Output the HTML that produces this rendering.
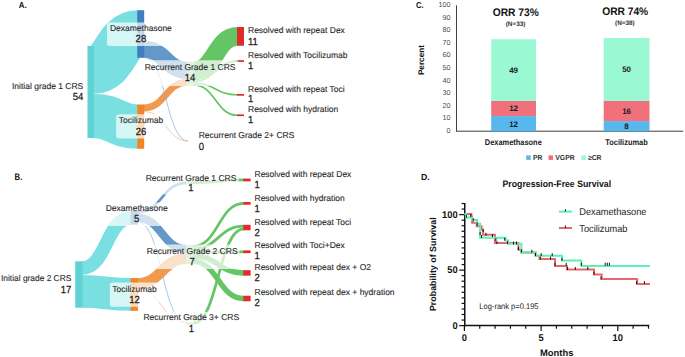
<!DOCTYPE html>
<html><head><meta charset="utf-8"><style>
html,body{margin:0;padding:0;background:#fff;}
svg{display:block;font-family:"Liberation Sans", sans-serif;text-rendering:geometricPrecision;}
</style></head><body>
<svg width="685" height="357" viewBox="0 0 685 357">
<rect width="685" height="357" fill="#fff"/>
<path d="M93.40,69.86 C115.60,69.86 115.60,34.00 137.80,34.00" fill="none" stroke="#79dfe0" stroke-width="47.71" stroke-opacity="1.0"/>
<path d="M93.40,115.86 C115.60,115.86 115.60,126.65 137.80,126.65" fill="none" stroke="#79dfe0" stroke-width="44.29" stroke-opacity="1.0"/>
<path d="M143.60,49.28 C165.60,49.28 165.60,70.32 187.60,70.32" fill="none" stroke="#6498c8" stroke-width="17.04" stroke-opacity="1.0"/>
<path d="M143.60,107.91 C165.60,107.91 165.60,82.25 187.60,82.25" fill="none" stroke="#ef9a4d" stroke-width="6.82" stroke-opacity="1.0"/>
<path d="M144.20,57.50 C166.10,57.50 166.10,141.00 188.00,141.00" fill="none" stroke="#7fb0dc" stroke-width="0.7" stroke-opacity="1.0"/>
<path d="M144.20,111.62 C166.10,111.62 166.10,141.00 188.00,141.00" fill="none" stroke="#f2b57c" stroke-width="0.7" stroke-opacity="1.0"/>
<path d="M193.40,71.17 C215.50,71.17 215.50,36.37 237.60,36.37" fill="none" stroke="#64c564" stroke-width="18.74" stroke-opacity="1.0"/>
<path d="M193.40,81.40 C215.50,81.40 215.50,61.05 237.60,61.05" fill="none" stroke="#64c564" stroke-width="1.70" stroke-opacity="1.0"/>
<path d="M193.40,83.10 C215.50,83.10 215.50,94.85 237.60,94.85" fill="none" stroke="#64c564" stroke-width="1.70" stroke-opacity="1.0"/>
<path d="M193.40,84.80 C215.50,84.80 215.50,115.25 237.60,115.25" fill="none" stroke="#64c564" stroke-width="1.70" stroke-opacity="1.0"/>
<rect x="87.50" y="46.00" width="6.50" height="92.00" fill="#5fd2d3"/>
<rect x="137.20" y="10.20" width="7.00" height="47.60" fill="#3f7fbf"/>
<rect x="137.20" y="104.50" width="7.00" height="44.30" fill="#f08427"/>
<rect x="187.00" y="61.80" width="7.00" height="23.86" fill="#9ad69a"/>
<rect x="237.00" y="27.00" width="7.00" height="18.74" fill="#dd2c2c"/>
<rect x="237.00" y="60.20" width="7.00" height="1.70" fill="#dd2c2c"/>
<rect x="237.00" y="94.00" width="7.00" height="1.70" fill="#dd2c2c"/>
<rect x="237.00" y="114.40" width="7.00" height="1.70" fill="#dd2c2c"/>
<text x="83.30" y="89.00" font-size="8.5" text-anchor="end" font-weight="normal" fill="#2a2a2a" stroke="#2a2a2a" stroke-width="0.12" >Initial grade 1 CRS</text>
<text transform="translate(83.30,99.70) scale(0.92,1)" font-size="10.3" text-anchor="end" font-weight="normal" fill="#1a1a1a" stroke="#1a1a1a" stroke-width="0.25" >54</text>
<rect x="107.00" y="22.50" width="67.80" height="23.50" rx="2.5" fill="#fff" fill-opacity="0.7"/>
<text x="140.90" y="31.40" font-size="8.5" text-anchor="middle" font-weight="normal" fill="#2a2a2a" stroke="#2a2a2a" stroke-width="0.12" >Dexamethasone</text>
<text transform="translate(140.90,42.30) scale(0.92,1)" font-size="10.3" text-anchor="middle" font-weight="normal" fill="#1a1a1a" stroke="#1a1a1a" stroke-width="0.25" >28</text>
<rect x="116.20" y="114.20" width="49.40" height="24.40" rx="2.5" fill="#fff" fill-opacity="0.7"/>
<text x="141.00" y="123.10" font-size="8.5" text-anchor="middle" font-weight="normal" fill="#2a2a2a" stroke="#2a2a2a" stroke-width="0.12" >Tocilizumab</text>
<text transform="translate(141.00,134.80) scale(0.92,1)" font-size="10.3" text-anchor="middle" font-weight="normal" fill="#1a1a1a" stroke="#1a1a1a" stroke-width="0.25" >26</text>
<rect x="141.50" y="60.30" width="97.00" height="25.70" rx="2.5" fill="#fff" fill-opacity="0.7"/>
<text x="190.10" y="70.30" font-size="8.5" text-anchor="middle" font-weight="normal" fill="#2a2a2a" stroke="#2a2a2a" stroke-width="0.12" >Recurrent Grade 1 CRS</text>
<text transform="translate(190.10,81.30) scale(0.92,1)" font-size="10.3" text-anchor="middle" font-weight="normal" fill="#1a1a1a" stroke="#1a1a1a" stroke-width="0.25" >14</text>
<text x="198.70" y="138.00" font-size="8.5" text-anchor="start" font-weight="normal" fill="#2a2a2a" stroke="#2a2a2a" stroke-width="0.12" >Recurrent Grade 2+ CRS</text>
<text transform="translate(198.70,149.60) scale(0.92,1)" font-size="10.3" text-anchor="start" font-weight="normal" fill="#1a1a1a" stroke="#1a1a1a" stroke-width="0.25" >0</text>
<text x="248.00" y="33.00" font-size="8.5" text-anchor="start" font-weight="normal" fill="#2a2a2a" stroke="#2a2a2a" stroke-width="0.12" >Resolved with repeat Dex</text>
<text transform="translate(248.00,44.50) scale(0.92,1)" font-size="10.3" text-anchor="start" font-weight="normal" fill="#1a1a1a" stroke="#1a1a1a" stroke-width="0.25" >11</text>
<text x="248.00" y="57.80" font-size="8.5" text-anchor="start" font-weight="normal" fill="#2a2a2a" stroke="#2a2a2a" stroke-width="0.12" >Resolved with Tocilizumab</text>
<text transform="translate(248.00,69.20) scale(0.92,1)" font-size="10.3" text-anchor="start" font-weight="normal" fill="#1a1a1a" stroke="#1a1a1a" stroke-width="0.25" >1</text>
<text x="248.00" y="91.60" font-size="8.5" text-anchor="start" font-weight="normal" fill="#2a2a2a" stroke="#2a2a2a" stroke-width="0.12" >Resolved with repeat Toci</text>
<text transform="translate(248.00,102.10) scale(0.92,1)" font-size="10.3" text-anchor="start" font-weight="normal" fill="#1a1a1a" stroke="#1a1a1a" stroke-width="0.25" >1</text>
<text x="248.00" y="112.10" font-size="8.5" text-anchor="start" font-weight="normal" fill="#2a2a2a" stroke="#2a2a2a" stroke-width="0.12" >Resolved with hydration</text>
<text transform="translate(248.00,122.80) scale(0.92,1)" font-size="10.3" text-anchor="start" font-weight="normal" fill="#1a1a1a" stroke="#1a1a1a" stroke-width="0.25" >1</text>
<path d="M81.90,268.12 C106.55,268.12 106.55,217.82 131.20,217.82" fill="none" stroke="#79dfe0" stroke-width="13.65" stroke-opacity="1.0"/>
<path d="M81.90,291.33 C106.55,291.33 106.55,294.48 131.20,294.48" fill="none" stroke="#79dfe0" stroke-width="32.76" stroke-opacity="1.0"/>
<path d="M137.30,212.37 C161.95,212.37 161.95,182.87 186.60,182.87" fill="none" stroke="#6498c8" stroke-width="2.73" stroke-opacity="1.0"/>
<path d="M137.30,217.82 C161.95,217.82 161.95,249.09 186.60,249.09" fill="none" stroke="#6498c8" stroke-width="8.19" stroke-opacity="1.0"/>
<path d="M137.90,222.22 C161.95,222.22 161.95,322.30 186.00,322.30" fill="none" stroke="#7fb0dc" stroke-width="0.7" stroke-opacity="1.0"/>
<path d="M137.30,283.56 C161.95,283.56 161.95,258.65 186.60,258.65" fill="none" stroke="#ef9a4d" stroke-width="10.92" stroke-opacity="1.0"/>
<path d="M137.90,289.32 C161.95,289.32 161.95,322.60 186.00,322.60" fill="none" stroke="#f2b57c" stroke-width="0.7" stroke-opacity="1.0"/>
<path d="M192.70,182.87 C218.30,182.87 218.30,179.96 243.90,179.96" fill="none" stroke="#64c564" stroke-width="2.73" stroke-opacity="1.0"/>
<path d="M192.70,246.37 C218.30,246.37 218.30,203.37 243.90,203.37" fill="none" stroke="#64c564" stroke-width="2.73" stroke-opacity="1.0"/>
<path d="M192.70,249.09 C218.30,249.09 218.30,226.17 243.90,226.17" fill="none" stroke="#64c564" stroke-width="2.73" stroke-opacity="1.0"/>
<path d="M192.70,251.82 C218.30,251.82 218.30,251.76 243.90,251.76" fill="none" stroke="#64c564" stroke-width="2.73" stroke-opacity="1.0"/>
<path d="M192.70,255.92 C218.30,255.92 218.30,272.93 243.90,272.93" fill="none" stroke="#64c564" stroke-width="5.46" stroke-opacity="1.0"/>
<path d="M192.70,261.38 C218.30,261.38 218.30,298.53 243.90,298.53" fill="none" stroke="#64c564" stroke-width="5.46" stroke-opacity="1.0"/>
<path d="M192.70,323.37 C218.30,323.37 218.30,228.90 243.90,228.90" fill="none" stroke="#64c564" stroke-width="2.73" stroke-opacity="1.0"/>
<rect x="75.20" y="261.30" width="7.30" height="46.41" fill="#5fd2d3"/>
<rect x="130.60" y="211.00" width="7.30" height="13.65" fill="#3f7fbf"/>
<rect x="130.60" y="278.10" width="7.30" height="32.76" fill="#f08427"/>
<rect x="186.00" y="181.50" width="7.30" height="2.73" fill="#9ad69a"/>
<rect x="186.00" y="245.00" width="7.30" height="19.11" fill="#9ad69a"/>
<rect x="186.00" y="322.00" width="7.30" height="2.73" fill="#9ad69a"/>
<rect x="243.30" y="178.60" width="7.30" height="2.73" fill="#dd2c2c"/>
<rect x="243.30" y="202.00" width="7.30" height="2.73" fill="#dd2c2c"/>
<rect x="243.30" y="224.80" width="7.30" height="5.46" fill="#dd2c2c"/>
<rect x="243.30" y="250.40" width="7.30" height="2.73" fill="#dd2c2c"/>
<rect x="243.30" y="270.20" width="7.30" height="5.46" fill="#dd2c2c"/>
<rect x="243.30" y="295.80" width="7.30" height="5.46" fill="#dd2c2c"/>
<text transform="translate(71.30,281.40) scale(0.985,1)" font-size="8.5" text-anchor="end" font-weight="normal" fill="#2a2a2a" stroke="#2a2a2a" stroke-width="0.12" >Initial grade 2 CRS</text>
<text transform="translate(71.30,293.00) scale(0.92,1)" font-size="10.3" text-anchor="end" font-weight="normal" fill="#1a1a1a" stroke="#1a1a1a" stroke-width="0.25" >17</text>
<rect x="103.50" y="202.50" width="66.50" height="23.50" rx="2.5" fill="#fff" fill-opacity="0.7"/>
<text x="136.70" y="211.00" font-size="8.5" text-anchor="middle" font-weight="normal" fill="#2a2a2a" stroke="#2a2a2a" stroke-width="0.12" >Dexamethasone</text>
<text transform="translate(136.70,222.10) scale(0.92,1)" font-size="10.3" text-anchor="middle" font-weight="normal" fill="#1a1a1a" stroke="#1a1a1a" stroke-width="0.25" >5</text>
<rect x="109.80" y="282.60" width="49.20" height="24.20" rx="2.5" fill="#fff" fill-opacity="0.7"/>
<text x="134.50" y="292.00" font-size="8.5" text-anchor="middle" font-weight="normal" fill="#2a2a2a" stroke="#2a2a2a" stroke-width="0.12" >Tocilizumab</text>
<text transform="translate(134.50,303.30) scale(0.92,1)" font-size="10.3" text-anchor="middle" font-weight="normal" fill="#1a1a1a" stroke="#1a1a1a" stroke-width="0.25" >12</text>
<rect x="143.50" y="171.50" width="95.10" height="23.00" rx="2.5" fill="#fff" fill-opacity="0.7"/>
<text x="191.00" y="180.90" font-size="8.5" text-anchor="middle" font-weight="normal" fill="#2a2a2a" stroke="#2a2a2a" stroke-width="0.12" >Recurrent Grade 1 CRS</text>
<text transform="translate(191.00,191.40) scale(0.92,1)" font-size="10.3" text-anchor="middle" font-weight="normal" fill="#1a1a1a" stroke="#1a1a1a" stroke-width="0.25" >1</text>
<rect x="145.00" y="244.50" width="94.50" height="24.50" rx="2.5" fill="#fff" fill-opacity="0.7"/>
<text x="192.20" y="253.50" font-size="8.5" text-anchor="middle" font-weight="normal" fill="#2a2a2a" stroke="#2a2a2a" stroke-width="0.12" >Recurrent Grade 2 CRS</text>
<text transform="translate(192.20,264.50) scale(0.92,1)" font-size="10.3" text-anchor="middle" font-weight="normal" fill="#1a1a1a" stroke="#1a1a1a" stroke-width="0.25" >7</text>
<rect x="141.50" y="311.80" width="99.50" height="23.20" rx="2.5" fill="#fff" fill-opacity="0.7"/>
<text x="191.30" y="320.40" font-size="8.5" text-anchor="middle" font-weight="normal" fill="#2a2a2a" stroke="#2a2a2a" stroke-width="0.12" >Recurrent Grade 3+ CRS</text>
<text transform="translate(191.30,332.00) scale(0.92,1)" font-size="10.3" text-anchor="middle" font-weight="normal" fill="#1a1a1a" stroke="#1a1a1a" stroke-width="0.25" >1</text>
<text x="254.50" y="177.20" font-size="8.5" text-anchor="start" font-weight="normal" fill="#2a2a2a" stroke="#2a2a2a" stroke-width="0.12" >Resolved with repeat Dex</text>
<text transform="translate(254.50,188.10) scale(0.92,1)" font-size="10.3" text-anchor="start" font-weight="normal" fill="#1a1a1a" stroke="#1a1a1a" stroke-width="0.25" >1</text>
<text x="254.50" y="200.70" font-size="8.5" text-anchor="start" font-weight="normal" fill="#2a2a2a" stroke="#2a2a2a" stroke-width="0.12" >Resolved with hydration</text>
<text transform="translate(254.50,211.60) scale(0.92,1)" font-size="10.3" text-anchor="start" font-weight="normal" fill="#1a1a1a" stroke="#1a1a1a" stroke-width="0.25" >1</text>
<text x="254.50" y="224.80" font-size="8.5" text-anchor="start" font-weight="normal" fill="#2a2a2a" stroke="#2a2a2a" stroke-width="0.12" >Resolved with repeat Toci</text>
<text transform="translate(254.50,235.50) scale(0.92,1)" font-size="10.3" text-anchor="start" font-weight="normal" fill="#1a1a1a" stroke="#1a1a1a" stroke-width="0.25" >2</text>
<text x="254.50" y="248.10" font-size="8.5" text-anchor="start" font-weight="normal" fill="#2a2a2a" stroke="#2a2a2a" stroke-width="0.12" >Resolved with Toci+Dex</text>
<text transform="translate(254.50,259.30) scale(0.92,1)" font-size="10.3" text-anchor="start" font-weight="normal" fill="#1a1a1a" stroke="#1a1a1a" stroke-width="0.25" >1</text>
<text x="254.50" y="269.60" font-size="8.5" text-anchor="start" font-weight="normal" fill="#2a2a2a" stroke="#2a2a2a" stroke-width="0.12" >Resolved with repeat dex + O2</text>
<text transform="translate(254.50,280.50) scale(0.92,1)" font-size="10.3" text-anchor="start" font-weight="normal" fill="#1a1a1a" stroke="#1a1a1a" stroke-width="0.25" >2</text>
<text x="254.50" y="295.20" font-size="8.5" text-anchor="start" font-weight="normal" fill="#2a2a2a" stroke="#2a2a2a" stroke-width="0.12" >Resolved with repeat dex + hydration</text>
<text transform="translate(254.50,306.00) scale(0.92,1)" font-size="10.3" text-anchor="start" font-weight="normal" fill="#1a1a1a" stroke="#1a1a1a" stroke-width="0.25" >2</text>
<text transform="translate(18.80,8.10) scale(0.9,1)" font-size="8.8" text-anchor="start" font-weight="bold" fill="#111" >A.</text>
<text transform="translate(14.60,180.10) scale(0.82,1)" font-size="9.4" text-anchor="start" font-weight="bold" fill="#111" >B.</text>
<text transform="translate(416.10,8.20) scale(0.88,1)" font-size="8.6" text-anchor="start" font-weight="bold" fill="#111" >C.</text>
<text x="421.00" y="179.90" font-size="8.8" text-anchor="start" font-weight="bold" fill="#111" >D.</text>
<line x1="456.5" y1="5.3" x2="456.5" y2="131.20" stroke="#404040" stroke-width="1"/>
<line x1="456.0" y1="131.20" x2="683.2" y2="131.20" stroke="#404040" stroke-width="1"/>
<text x="450.40" y="133.00" font-size="7.2" text-anchor="end" font-weight="normal" fill="#4d4d4d" >0</text>
<text x="450.40" y="120.40" font-size="7.2" text-anchor="end" font-weight="normal" fill="#4d4d4d" >10</text>
<text x="450.40" y="107.80" font-size="7.2" text-anchor="end" font-weight="normal" fill="#4d4d4d" >20</text>
<text x="450.40" y="95.20" font-size="7.2" text-anchor="end" font-weight="normal" fill="#4d4d4d" >30</text>
<text x="450.40" y="82.60" font-size="7.2" text-anchor="end" font-weight="normal" fill="#4d4d4d" >40</text>
<text x="450.40" y="70.00" font-size="7.2" text-anchor="end" font-weight="normal" fill="#4d4d4d" >50</text>
<text x="450.40" y="57.40" font-size="7.2" text-anchor="end" font-weight="normal" fill="#4d4d4d" >60</text>
<text x="450.40" y="44.80" font-size="7.2" text-anchor="end" font-weight="normal" fill="#4d4d4d" >70</text>
<text x="450.40" y="32.20" font-size="7.2" text-anchor="end" font-weight="normal" fill="#4d4d4d" >80</text>
<text x="450.40" y="19.60" font-size="7.2" text-anchor="end" font-weight="normal" fill="#4d4d4d" >90</text>
<text x="450.40" y="7.00" font-size="7.2" text-anchor="end" font-weight="normal" fill="#4d4d4d" >100</text>
<rect x="491.2" y="116.08" width="44.80" height="15.12" fill="#56b8ee"/>
<text x="513.60" y="126.54" font-size="8.0" text-anchor="middle" font-weight="bold" fill="#1a1a1a" >12</text>
<rect x="491.2" y="100.96" width="44.80" height="15.12" fill="#f0717b"/>
<text x="513.60" y="111.42" font-size="8.0" text-anchor="middle" font-weight="bold" fill="#1a1a1a" >12</text>
<rect x="491.2" y="39.22" width="44.80" height="61.74" fill="#9af8d3"/>
<text x="513.60" y="72.99" font-size="8.0" text-anchor="middle" font-weight="bold" fill="#1a1a1a" >49</text>
<rect x="603.7" y="121.12" width="45.80" height="10.08" fill="#56b8ee"/>
<text x="626.60" y="129.06" font-size="8.0" text-anchor="middle" font-weight="bold" fill="#1a1a1a" >8</text>
<rect x="603.7" y="100.96" width="45.80" height="20.16" fill="#f0717b"/>
<text x="626.60" y="113.94" font-size="8.0" text-anchor="middle" font-weight="bold" fill="#1a1a1a" >16</text>
<rect x="603.7" y="37.96" width="45.80" height="63.00" fill="#9af8d3"/>
<text x="626.60" y="72.36" font-size="8.0" text-anchor="middle" font-weight="bold" fill="#1a1a1a" >50</text>
<text transform="translate(515.80,15.70) scale(0.93,1)" font-size="11" text-anchor="middle" font-weight="bold" fill="#111" >ORR 73%</text>
<text x="515.60" y="25.80" font-size="6.4" text-anchor="middle" font-weight="bold" fill="#333" >(N=33)</text>
<text transform="translate(625.20,15.00) scale(0.93,1)" font-size="11" text-anchor="middle" font-weight="bold" fill="#111" >ORR 74%</text>
<text x="624.90" y="24.80" font-size="6.4" text-anchor="middle" font-weight="bold" fill="#333" >(N=38)</text>
<text transform="translate(513.30,144.60) scale(0.895,1)" font-size="8.3" text-anchor="middle" font-weight="bold" fill="#222" >Dexamethasone</text>
<text transform="translate(626.50,144.60) scale(0.895,1)" font-size="8.3" text-anchor="middle" font-weight="bold" fill="#222" >Tocilizumab</text>
<rect x="526.2" y="155.4" width="4.5" height="4.5" fill="#56b8ee"/>
<text transform="translate(533.00,160.00) scale(0.95,1)" font-size="7.2" text-anchor="start" font-weight="bold" fill="#333" >PR</text>
<rect x="548.5" y="155.4" width="4.5" height="4.5" fill="#f0717b"/>
<text transform="translate(555.30,160.00) scale(0.95,1)" font-size="7.2" text-anchor="start" font-weight="bold" fill="#333" >VGPR</text>
<rect x="581.3" y="155.4" width="4.5" height="4.5" fill="#9af8d3"/>
<text transform="translate(587.90,160.00) scale(0.95,1)" font-size="7.2" text-anchor="start" font-weight="bold" fill="#333" >&#8805;CR</text>
<text x="0.00" y="0.00" font-size="8.2" text-anchor="middle" font-weight="bold" fill="#111" transform="translate(424.4,60.1) rotate(-90)">Percent</text>
<line x1="464.75" y1="203.0" x2="464.75" y2="326.4" stroke="#111" stroke-width="1.5"/>
<line x1="464.0" y1="325.6" x2="649.3" y2="325.6" stroke="#111" stroke-width="1.5"/>
<line x1="459.20" y1="325.60" x2="464.2" y2="325.60" stroke="#111" stroke-width="1.2"/>
<line x1="461.60" y1="320.05" x2="464.2" y2="320.05" stroke="#111" stroke-width="1.2"/>
<line x1="461.60" y1="314.50" x2="464.2" y2="314.50" stroke="#111" stroke-width="1.2"/>
<line x1="461.60" y1="308.95" x2="464.2" y2="308.95" stroke="#111" stroke-width="1.2"/>
<line x1="461.60" y1="303.40" x2="464.2" y2="303.40" stroke="#111" stroke-width="1.2"/>
<line x1="461.60" y1="297.86" x2="464.2" y2="297.86" stroke="#111" stroke-width="1.2"/>
<line x1="461.60" y1="292.31" x2="464.2" y2="292.31" stroke="#111" stroke-width="1.2"/>
<line x1="461.60" y1="286.76" x2="464.2" y2="286.76" stroke="#111" stroke-width="1.2"/>
<line x1="461.60" y1="281.21" x2="464.2" y2="281.21" stroke="#111" stroke-width="1.2"/>
<line x1="461.60" y1="275.66" x2="464.2" y2="275.66" stroke="#111" stroke-width="1.2"/>
<line x1="459.20" y1="270.11" x2="464.2" y2="270.11" stroke="#111" stroke-width="1.2"/>
<line x1="461.60" y1="264.56" x2="464.2" y2="264.56" stroke="#111" stroke-width="1.2"/>
<line x1="461.60" y1="259.01" x2="464.2" y2="259.01" stroke="#111" stroke-width="1.2"/>
<line x1="461.60" y1="253.46" x2="464.2" y2="253.46" stroke="#111" stroke-width="1.2"/>
<line x1="461.60" y1="247.91" x2="464.2" y2="247.91" stroke="#111" stroke-width="1.2"/>
<line x1="461.60" y1="242.37" x2="464.2" y2="242.37" stroke="#111" stroke-width="1.2"/>
<line x1="461.60" y1="236.82" x2="464.2" y2="236.82" stroke="#111" stroke-width="1.2"/>
<line x1="461.60" y1="231.27" x2="464.2" y2="231.27" stroke="#111" stroke-width="1.2"/>
<line x1="461.60" y1="225.72" x2="464.2" y2="225.72" stroke="#111" stroke-width="1.2"/>
<line x1="461.60" y1="220.17" x2="464.2" y2="220.17" stroke="#111" stroke-width="1.2"/>
<line x1="459.20" y1="214.62" x2="464.2" y2="214.62" stroke="#111" stroke-width="1.2"/>
<line x1="461.60" y1="209.07" x2="464.2" y2="209.07" stroke="#111" stroke-width="1.2"/>
<line x1="461.60" y1="203.52" x2="464.2" y2="203.52" stroke="#111" stroke-width="1.2"/>
<line x1="464.40" y1="325.6" x2="464.40" y2="331.00" stroke="#111" stroke-width="1.2"/>
<line x1="479.74" y1="325.6" x2="479.74" y2="328.70" stroke="#111" stroke-width="1.2"/>
<line x1="495.08" y1="325.6" x2="495.08" y2="328.70" stroke="#111" stroke-width="1.2"/>
<line x1="510.42" y1="325.6" x2="510.42" y2="328.70" stroke="#111" stroke-width="1.2"/>
<line x1="525.76" y1="325.6" x2="525.76" y2="328.70" stroke="#111" stroke-width="1.2"/>
<line x1="541.10" y1="325.6" x2="541.10" y2="331.00" stroke="#111" stroke-width="1.2"/>
<line x1="556.44" y1="325.6" x2="556.44" y2="328.70" stroke="#111" stroke-width="1.2"/>
<line x1="571.78" y1="325.6" x2="571.78" y2="328.70" stroke="#111" stroke-width="1.2"/>
<line x1="587.12" y1="325.6" x2="587.12" y2="328.70" stroke="#111" stroke-width="1.2"/>
<line x1="602.46" y1="325.6" x2="602.46" y2="328.70" stroke="#111" stroke-width="1.2"/>
<line x1="617.80" y1="325.6" x2="617.80" y2="331.00" stroke="#111" stroke-width="1.2"/>
<line x1="633.14" y1="325.6" x2="633.14" y2="328.70" stroke="#111" stroke-width="1.2"/>
<line x1="648.48" y1="325.6" x2="648.48" y2="328.70" stroke="#111" stroke-width="1.2"/>
<text transform="translate(457.60,328.90) scale(0.95,1)" font-size="9.8" text-anchor="end" font-weight="bold" fill="#111" >0</text>
<text transform="translate(457.60,273.41) scale(0.95,1)" font-size="9.8" text-anchor="end" font-weight="bold" fill="#111" >50</text>
<text transform="translate(457.60,217.92) scale(0.95,1)" font-size="9.8" text-anchor="end" font-weight="bold" fill="#111" >100</text>
<text transform="translate(464.40,341.00) scale(0.95,1)" font-size="9.8" text-anchor="middle" font-weight="bold" fill="#111" >0</text>
<text transform="translate(541.10,341.00) scale(0.95,1)" font-size="9.8" text-anchor="middle" font-weight="bold" fill="#111" >5</text>
<text transform="translate(617.80,341.00) scale(0.95,1)" font-size="9.8" text-anchor="middle" font-weight="bold" fill="#111" >10</text>
<text x="556.70" y="356.00" font-size="9.4" text-anchor="middle" font-weight="bold" fill="#111" >Months</text>
<text transform="translate(556.80,186.90) scale(0.93,1)" font-size="9.4" text-anchor="middle" font-weight="bold" fill="#111" >Progression-Free Survival</text>
<text x="0.00" y="0.00" font-size="8.9" text-anchor="middle" font-weight="bold" fill="#111" transform="translate(436.4,264.2) rotate(-90)">Probability of Survival</text>
<text transform="translate(479.30,309.20) scale(0.92,1)" font-size="8.2" text-anchor="start" font-weight="normal" fill="#222" >Log-rank p=0.195</text>
<path d="M464.50,214.10 H471.30 V216.40 H472.10 V222.70 H476.70 V226.20 H481.60 V229.60 H483.10 V234.80 H494.90 V243.10 H518.40 V249.80 H521.40 V252.50 H535.60 V255.70 H539.50 V259.10 H555.00 V265.90 H566.90 V269.60 H594.00 V274.50 H601.70 V279.10 H637.10 V284.00 H650.00" fill="none" stroke="#e8676f" stroke-width="2"/>
<path d="M464.50,214.10 H465.90 V217.40 H471.80 V219.80 H477.20 V223.70 H480.10 V237.70 H505.70 V240.50 H508.10 V243.80 H521.40 V252.50 H535.60 V255.70 H562.00 V260.60 H581.40 V265.90 H650.00" fill="none" stroke="#5cf0b4" stroke-width="2"/>
<line x1="466.4" y1="214.90" x2="466.4" y2="217.90" stroke="#111" stroke-width="1"/>
<line x1="470.8" y1="213.90" x2="470.8" y2="216.90" stroke="#111" stroke-width="1"/>
<line x1="473.3" y1="218.30" x2="473.3" y2="221.30" stroke="#111" stroke-width="1"/>
<line x1="477.2" y1="222.70" x2="477.2" y2="225.70" stroke="#111" stroke-width="1"/>
<line x1="480.1" y1="232.00" x2="480.1" y2="235.00" stroke="#111" stroke-width="1"/>
<line x1="481.6" y1="235.00" x2="481.6" y2="238.00" stroke="#111" stroke-width="1"/>
<line x1="483.1" y1="229.10" x2="483.1" y2="232.10" stroke="#111" stroke-width="1"/>
<line x1="486" y1="232.70" x2="486" y2="235.70" stroke="#111" stroke-width="1"/>
<line x1="492.4" y1="234.00" x2="492.4" y2="237.00" stroke="#111" stroke-width="1"/>
<line x1="495.9" y1="238.20" x2="495.9" y2="241.20" stroke="#111" stroke-width="1"/>
<line x1="496.9" y1="241.10" x2="496.9" y2="244.10" stroke="#111" stroke-width="1"/>
<line x1="504.7" y1="237.70" x2="504.7" y2="240.70" stroke="#111" stroke-width="1"/>
<line x1="507.6" y1="241.10" x2="507.6" y2="244.10" stroke="#111" stroke-width="1"/>
<line x1="513.5" y1="241.60" x2="513.5" y2="244.60" stroke="#111" stroke-width="1"/>
<line x1="516.5" y1="241.60" x2="516.5" y2="244.60" stroke="#111" stroke-width="1"/>
<line x1="518.4" y1="247.00" x2="518.4" y2="250.00" stroke="#111" stroke-width="1"/>
<line x1="521.4" y1="249.50" x2="521.4" y2="252.50" stroke="#111" stroke-width="1"/>
<line x1="531.8" y1="249.70" x2="531.8" y2="252.70" stroke="#111" stroke-width="1"/>
<line x1="535.5" y1="253.00" x2="535.5" y2="256.00" stroke="#111" stroke-width="1"/>
<line x1="541.2" y1="253.20" x2="541.2" y2="256.20" stroke="#111" stroke-width="1"/>
<line x1="552.2" y1="253.20" x2="552.2" y2="256.20" stroke="#111" stroke-width="1"/>
<line x1="540.3" y1="256.70" x2="540.3" y2="259.70" stroke="#111" stroke-width="1"/>
<line x1="550.5" y1="256.70" x2="550.5" y2="259.70" stroke="#111" stroke-width="1"/>
<line x1="555" y1="263.00" x2="555" y2="266.00" stroke="#111" stroke-width="1"/>
<line x1="562" y1="257.90" x2="562" y2="260.90" stroke="#111" stroke-width="1"/>
<line x1="566.2" y1="263.00" x2="566.2" y2="266.00" stroke="#111" stroke-width="1"/>
<line x1="567.6" y1="267.00" x2="567.6" y2="270.00" stroke="#111" stroke-width="1"/>
<line x1="575.3" y1="267.00" x2="575.3" y2="270.00" stroke="#111" stroke-width="1"/>
<line x1="581.4" y1="262.70" x2="581.4" y2="265.70" stroke="#111" stroke-width="1"/>
<line x1="587.8" y1="266.90" x2="587.8" y2="269.90" stroke="#111" stroke-width="1"/>
<line x1="594" y1="271.70" x2="594" y2="274.70" stroke="#111" stroke-width="1"/>
<line x1="601" y1="276.50" x2="601" y2="279.50" stroke="#111" stroke-width="1"/>
<line x1="605.2" y1="262.70" x2="605.2" y2="265.70" stroke="#111" stroke-width="1"/>
<line x1="607.3" y1="262.70" x2="607.3" y2="265.70" stroke="#111" stroke-width="1"/>
<line x1="609.4" y1="262.70" x2="609.4" y2="265.70" stroke="#111" stroke-width="1"/>
<line x1="636.7" y1="281.10" x2="636.7" y2="284.10" stroke="#111" stroke-width="1"/>
<line x1="644.4" y1="281.10" x2="644.4" y2="284.10" stroke="#111" stroke-width="1"/>
<line x1="558.9" y1="211.6" x2="572" y2="211.6" stroke="#5cf0b4" stroke-width="2"/>
<line x1="565.4" y1="209.0" x2="565.4" y2="211.6" stroke="#111" stroke-width="0.9"/>
<line x1="558.9" y1="228.0" x2="572" y2="228.0" stroke="#e8676f" stroke-width="2"/>
<line x1="565.4" y1="225.4" x2="565.4" y2="228.0" stroke="#111" stroke-width="0.9"/>
<text transform="translate(579.30,215.30) scale(0.933,1)" font-size="9.9" text-anchor="start" font-weight="normal" fill="#222" >Dexamethasone</text>
<text transform="translate(579.30,231.70) scale(0.933,1)" font-size="9.9" text-anchor="start" font-weight="normal" fill="#222" >Tocilizumab</text>
</svg>
</body></html>
